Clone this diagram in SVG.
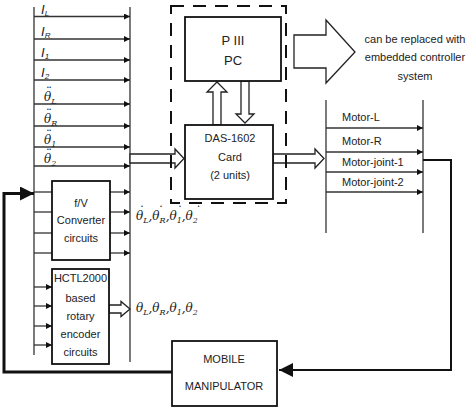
<svg xmlns="http://www.w3.org/2000/svg" width="474" height="407" viewBox="0 0 474 407">
<style>
.bus{stroke:#333;stroke-width:1.3;fill:none}
.ln{stroke:#333;stroke-width:1.3;fill:none}
.box{fill:#fff;stroke:#111;stroke-width:1.8}
.hol{fill:#fff;stroke:#222;stroke-width:1.3}
.t{font-family:"Liberation Sans",Arial,sans-serif;font-size:11px;fill:#222;text-anchor:middle}
.tl{font-family:"Liberation Sans",Arial,sans-serif;font-size:11px;fill:#222}
.li{font-family:"Liberation Sans",Arial,sans-serif;font-style:italic;font-size:13px;fill:#222}
.m{font-family:"DejaVu Serif",serif;font-style:italic;font-size:12px;fill:#222}
.d{font-family:"DejaVu Serif",serif;font-size:12px;fill:#222}
.s{font-size:8px}
.fb{stroke:#111;stroke-width:3;fill:none}
</style>
<defs>
<marker id="a" viewBox="0 0 10 10" refX="10" refY="5" markerWidth="9" markerHeight="6" markerUnits="userSpaceOnUse" orient="auto"><path d="M0,0 L10,5 L0,10 z" fill="#111"/></marker>
<marker id="b" viewBox="0 0 10 10" refX="10" refY="5" markerWidth="20" markerHeight="14" markerUnits="userSpaceOnUse" orient="auto"><path d="M0,0 L10,5 L0,10 z" fill="#111"/></marker>
</defs>

<g id="connectors">
<line class="bus" x1="34" y1="7" x2="34" y2="355"/>
<line class="bus" x1="130" y1="7" x2="130" y2="362"/>
<g class="ln" marker-end="url(#a)">
<line x1="34" y1="16.5" x2="130" y2="16.5"/>
<line x1="34" y1="39" x2="130" y2="39"/>
<line x1="34" y1="60" x2="130" y2="60"/>
<line x1="34" y1="80" x2="130" y2="80"/>
<line x1="34" y1="104" x2="130" y2="104"/>
<line x1="34" y1="126" x2="130" y2="126"/>
<line x1="34" y1="147" x2="130" y2="147"/>
<line x1="34" y1="166" x2="130" y2="166"/>
<line x1="110" y1="192" x2="130" y2="192"/>
<line x1="110" y1="212" x2="130" y2="212"/>
<line x1="110" y1="233" x2="130" y2="233"/>
<line x1="110" y1="253" x2="130" y2="253"/>
<line x1="34" y1="287" x2="52" y2="287"/>
<line x1="34" y1="306" x2="52" y2="306"/>
<line x1="34" y1="326" x2="52" y2="326"/>
<line x1="34" y1="345" x2="52" y2="345"/>
</g>
<g class="ln">
<line x1="34" y1="192" x2="52" y2="192"/>
<line x1="34" y1="212" x2="52" y2="212"/>
<line x1="34" y1="233" x2="52" y2="233"/>
<line x1="34" y1="253" x2="52" y2="253"/>
</g>
<line class="bus" x1="326" y1="100" x2="326" y2="233"/>
<line class="bus" x1="423" y1="100" x2="423" y2="233"/>
<g class="ln" marker-end="url(#a)">
<line x1="326" y1="128" x2="423" y2="128"/>
<line x1="326" y1="152" x2="423" y2="152"/>
<line x1="326" y1="172" x2="423" y2="172"/>
<line x1="326" y1="192" x2="423" y2="192"/>
</g>
<path class="hol" d="M130,154 H175 V149 L184,158.5 L175,168 V163 H130 Z"/>
<path class="hol" d="M273,154 H315 V149 L324,158.5 L315,168 V163 H273 Z"/>
<path class="hol" d="M213,125 V92 H207 L217,82 L227,92 H221 V125 Z"/>
<path class="hol" d="M241,81 V114 H236 L245,123 L254,114 H249 V81 Z"/>
<path class="hol" d="M109,305 H121 V301.5 L130,309 L121,316.5 V313 H109 Z"/>
<path class="hol" d="M294,35 H326 V20 L355,52 L326,83 V68 H294 Z"/>
<rect x="171" y="6" width="115" height="197" fill="none" stroke="#111" stroke-width="2" stroke-dasharray="13,9"/>
<path d="M423,160 H451 V370 H279" stroke="#111" stroke-width="2" fill="none" marker-end="url(#b)"/>
<path class="fb" d="M172,372 H4 V193.5 H16"/>
<path d="M14,193.5 H34" stroke="#111" stroke-width="3" marker-end="url(#b)"/>
</g>

<g id="inputs">
<text class="li" x="41" y="14">I<tspan class="s" dy="2">L</tspan></text>
<text class="li" x="41" y="36">I<tspan class="s" dy="2">R</tspan></text>
<text class="li" x="41" y="57">I<tspan class="s" dy="2">1</tspan></text>
<text class="li" x="41" y="77">I<tspan class="s" dy="2">2</tspan></text>
<text class="m" x="44" y="101">θ<tspan class="s" dy="3">L</tspan></text>
<text class="d" x="46" y="97">¨</text>
<text class="m" x="44" y="123">θ<tspan class="s" dy="3">R</tspan></text>
<text class="d" x="46" y="119">¨</text>
<text class="m" x="44" y="144">θ<tspan class="s" dy="3">1</tspan></text>
<text class="d" x="46" y="140">¨</text>
<text class="m" x="44" y="163">θ<tspan class="s" dy="3">2</tspan></text>
<text class="d" x="46" y="159">¨</text>
</g>

<g id="fv">
<rect class="box" x="52" y="181" width="58" height="79"/>
<text class="t" x="81" y="207">f/V</text>
<text class="t" x="81" y="224">Converter</text>
<text class="t" x="81" y="242">circuits</text>
</g>

<g id="hctl">
<rect class="box" x="52" y="269" width="57" height="95"/>
<text class="t" x="80.5" y="282">HCTL2000</text>
<text class="t" x="80.5" y="302">based</text>
<text class="t" x="80.5" y="320">rotary</text>
<text class="t" x="80.5" y="338">encoder</text>
<text class="t" x="80.5" y="356">circuits</text>
</g>

<g id="vel-label">
<text class="m" x="136" y="220">θ<tspan class="s" dy="3">L</tspan><tspan dy="-3">,θ</tspan><tspan class="s" dy="3">R</tspan><tspan dy="-3">,θ</tspan><tspan class="s" dy="3">1</tspan><tspan dy="-3">,θ</tspan><tspan class="s" dy="3">2</tspan></text>
<text class="d" x="139" y="216">˙</text>
<text class="d" x="158" y="216">˙</text>
<text class="d" x="177" y="216">˙</text>
<text class="d" x="195.5" y="216">˙</text>
</g>
<g id="pos-label">
<text class="m" x="136" y="312">θ<tspan class="s" dy="3">L</tspan><tspan dy="-3">,θ</tspan><tspan class="s" dy="3">R</tspan><tspan dy="-3">,θ</tspan><tspan class="s" dy="3">1</tspan><tspan dy="-3">,θ</tspan><tspan class="s" dy="3">2</tspan></text>
</g>

<g id="pc">
<rect class="box" x="185" y="17" width="96" height="64"/>
<text class="t" x="233" y="45" style="font-size:13px">P III</text>
<text class="t" x="233" y="65" style="font-size:13px">PC</text>
</g>

<g id="das">
<rect class="box" x="185" y="125" width="88" height="74"/>
<text class="t" x="230" y="142">DAS-1602</text>
<text class="t" x="230" y="161">Card</text>
<text class="t" x="230" y="179">(2 units)</text>
</g>

<g id="note">
<text class="t" x="415" y="43">can be replaced with</text>
<text class="t" x="415" y="61">embedded controller</text>
<text class="t" x="415" y="80">system</text>
</g>

<g id="motors">
<text class="tl" x="342" y="121">Motor-L</text>
<text class="tl" x="342" y="145">Motor-R</text>
<text class="tl" x="342" y="166">Motor-joint-1</text>
<text class="tl" x="342" y="186">Motor-joint-2</text>
</g>

<g id="manipulator">
<rect class="box" x="172" y="341" width="105" height="65"/>
<text class="t" x="224" y="363">MOBILE</text>
<text class="t" x="224" y="390">MANIPULATOR</text>
</g>
</svg>
